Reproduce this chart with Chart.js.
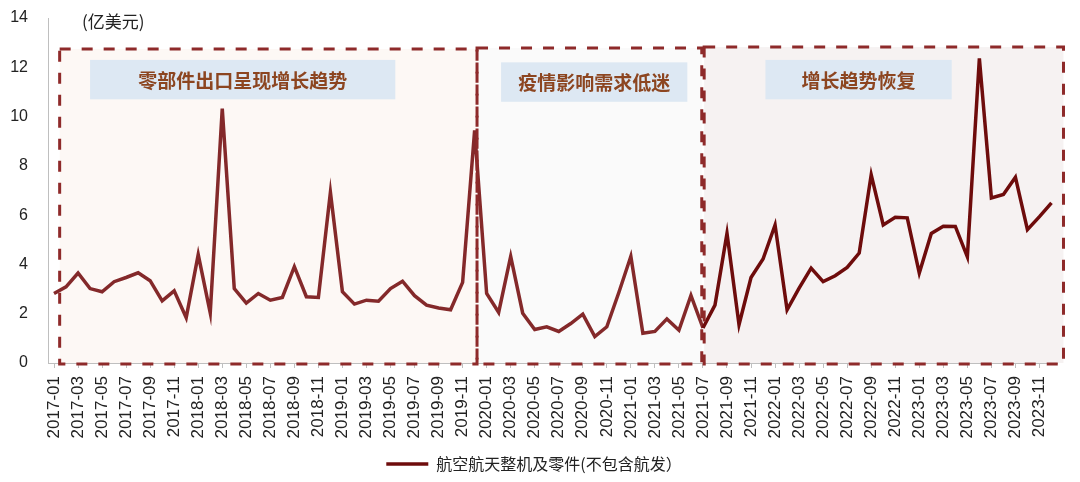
<!DOCTYPE html>
<html>
<head>
<meta charset="utf-8">
<script src="https://cdn.jsdelivr.net/npm/chart.js@4/dist/chart.umd.min.js"></script>
<style>
  body { margin: 0; background: #fff; }
  #wrap { width: 1080px; height: 482px; position: relative; }
</style>
</head>
<body>
<div id="wrap"><canvas id="chart"></canvas></div>
<script>
// 航空航天整机及零件出口（亿美元），2017-01 ~ 2023-12
const months = [
  '2017-01','2017-02','2017-03','2017-04','2017-05','2017-06','2017-07','2017-08','2017-09','2017-10','2017-11','2017-12',
  '2018-01','2018-02','2018-03','2018-04','2018-05','2018-06','2018-07','2018-08','2018-09','2018-10','2018-11','2018-12',
  '2019-01','2019-02','2019-03','2019-04','2019-05','2019-06','2019-07','2019-08','2019-09','2019-10','2019-11','2019-12',
  '2020-01','2020-02','2020-03','2020-04','2020-05','2020-06','2020-07','2020-08','2020-09','2020-10','2020-11','2020-12',
  '2021-01','2021-02','2021-03','2021-04','2021-05','2021-06','2021-07','2021-08','2021-09','2021-10','2021-11','2021-12',
  '2022-01','2022-02','2022-03','2022-04','2022-05','2022-06','2022-07','2022-08','2022-09','2022-10','2022-11','2022-12',
  '2023-01','2023-02','2023-03','2023-04','2023-05','2023-06','2023-07','2023-08','2023-09','2023-10','2023-11','2023-12'
];
const exports = [
  2.82, 3.09, 3.65, 3.02, 2.89, 3.30, 3.47, 3.66, 3.34, 2.52, 2.93, 1.84,
  4.40, 2.03, 10.32, 3.02, 2.43, 2.82, 2.55, 2.66, 3.91, 2.69, 2.66, 6.93,
  2.89, 2.39, 2.55, 2.51, 3.02, 3.32, 2.73, 2.35, 2.23, 2.16, 3.27, 9.44,
  2.82, 2.05, 4.33, 2.02, 1.36, 1.47, 1.28, 1.60, 1.98, 1.07, 1.47, 2.86,
  4.33, 1.21, 1.28, 1.79, 1.33, 2.74, 1.42, 2.35, 5.26, 1.55, 3.47, 4.22,
  5.60, 2.16, 3.04, 3.85, 3.30, 3.54, 3.88, 4.46, 7.64, 5.60, 5.91, 5.89,
  3.65, 5.26, 5.55, 5.54, 4.31, 12.36, 6.70, 6.84, 7.54, 5.41, 5.94, 6.50
];
const seriesName = '航空航天整机及零件(不包含航发）';
const unitLabel = '(亿美元)';

// phases: category index range + top value, label
const phaseNames = ['零部件出口呈现增长趋势', '疫情影响需求低迷', '增长趋势恢复'];
const phaseFrom  = [0.47, 35.2, 54.1];
const phaseTo    = [35.2, 53.9, 84.0];
const phaseTop   = [12.74, 12.78, 12.82];
const phaseFill  = ['#fdf8f5', '#fafafa', '#f6f2f2'];
// label boxes, in the same units
const tagFrom = [3.0, 37.2, 59.2];
const tagTo   = [28.4, 52.7, 74.7];
const tagTop  = [12.3, 12.2, 12.3];
const tagBot  = [10.7, 10.6, 10.7];

const FONT = "'Liberation Sans', Arial, 'Noto Sans CJK SC', sans-serif";
const CJK = "'Noto Sans CJK SC', 'Liberation Sans', sans-serif";

const phasePlugin = {
  id: 'phases',
  beforeDatasetsDraw(chart) {
    const { ctx, scales: { x, y } } = chart;
    ctx.save();
    phaseNames.forEach((_, i) => {
      const l = x.getPixelForValue(phaseFrom[i]), r = x.getPixelForValue(phaseTo[i]);
      const t = y.getPixelForValue(phaseTop[i]), b = y.getPixelForValue(0);
      ctx.fillStyle = phaseFill[i];
      ctx.fillRect(l, t, r - l, b - t);
    });
    ctx.restore();
  },
  afterDatasetsDraw(chart) {
    const { ctx, chartArea, scales: { x, y } } = chart;
    ctx.save();
    ctx.strokeStyle = '#8e2a2a';
    ctx.lineWidth = 3;
    ctx.setLineDash([11, 11]);
    phaseNames.forEach((name, i) => {
      const l = x.getPixelForValue(phaseFrom[i]), r = x.getPixelForValue(phaseTo[i]);
      const t = y.getPixelForValue(phaseTop[i]), b = y.getPixelForValue(0) + 1;
      ctx.strokeRect(l, t, r - l, b - t);
    });
    ctx.setLineDash([]);
    phaseNames.forEach((name, i) => {
      const l = x.getPixelForValue(tagFrom[i]), r = x.getPixelForValue(tagTo[i]);
      const t = y.getPixelForValue(tagTop[i]), b = y.getPixelForValue(tagBot[i]);
      ctx.fillStyle = '#dde8f3';
      ctx.fillRect(l, t, r - l, b - t);
      ctx.fillStyle = '#8c4520';
      ctx.font = 'bold 19px ' + CJK;
      ctx.textAlign = 'center';
      ctx.textBaseline = 'middle';
      ctx.fillText(name, (l + r) / 2, (t + b) / 2 + 1);
    });
    ctx.fillStyle = '#222';
    ctx.font = '17px ' + CJK;
    ctx.textAlign = 'left';
    ctx.textBaseline = 'middle';
    ctx.fillText(unitLabel, chartArea.left + 34, chartArea.top + 4);
    ctx.restore();
  }
};

new Chart(document.getElementById('chart'), {
  type: 'line',
  data: {
    labels: months,
    datasets: [{
      label: seriesName,
      data: exports,
      borderColor: '#6e0c0c',
      backgroundColor: '#6e0c0c',
      borderWidth: 3.5,
      pointRadius: 0,
      tension: 0,
      segment: {
        borderColor: c => c.p0DataIndex < 54 ? '#84292a' : '#6e0c0c'
      }
    }]
  },
  options: {
    responsive: true,
    maintainAspectRatio: false,
    animation: false,
    layout: { padding: { top: 0, right: 21, left: 9, bottom: 0 } },
    plugins: {
      legend: {
        position: 'bottom',
        labels: {
          usePointStyle: true,
          pointStyle: 'line',
          pointStyleWidth: 42,
          color: '#222',
          font: { size: 16, family: CJK },
          padding: 11
        }
      },
      tooltip: { enabled: false }
    },
    scales: {
      x: {
        offset: true,
        afterFit: s => { s.height = 82; },
        grid: {
          drawOnChartArea: false,
          tickLength: 5,
          tickColor: c => c.index % 2 === 0 ? '#bfbfbf' : 'rgba(0,0,0,0)'
        },
        border: { color: '#bfbfbf', width: 1 },
        ticks: {
          autoSkip: false,
          maxRotation: 90,
          minRotation: 90,
          padding: 8,
          color: '#222',
          font: { size: 17, family: FONT },
          callback: (v, i) => i % 2 === 0 ? months[i] : ''
        }
      },
      y: {
        min: 0,
        max: 14,
        afterFit: s => { s.width = 39; s.paddingTop = 18; s.paddingBottom = 10; },
        grid: { drawOnChartArea: false, drawTicks: false },
        border: { color: '#bfbfbf', width: 1 },
        ticks: {
          stepSize: 2,
          padding: 20,
          color: '#222',
          font: { size: 16, family: FONT }
        }
      }
    }
  },
  plugins: [phasePlugin]
});
</script>
</body>
</html>
